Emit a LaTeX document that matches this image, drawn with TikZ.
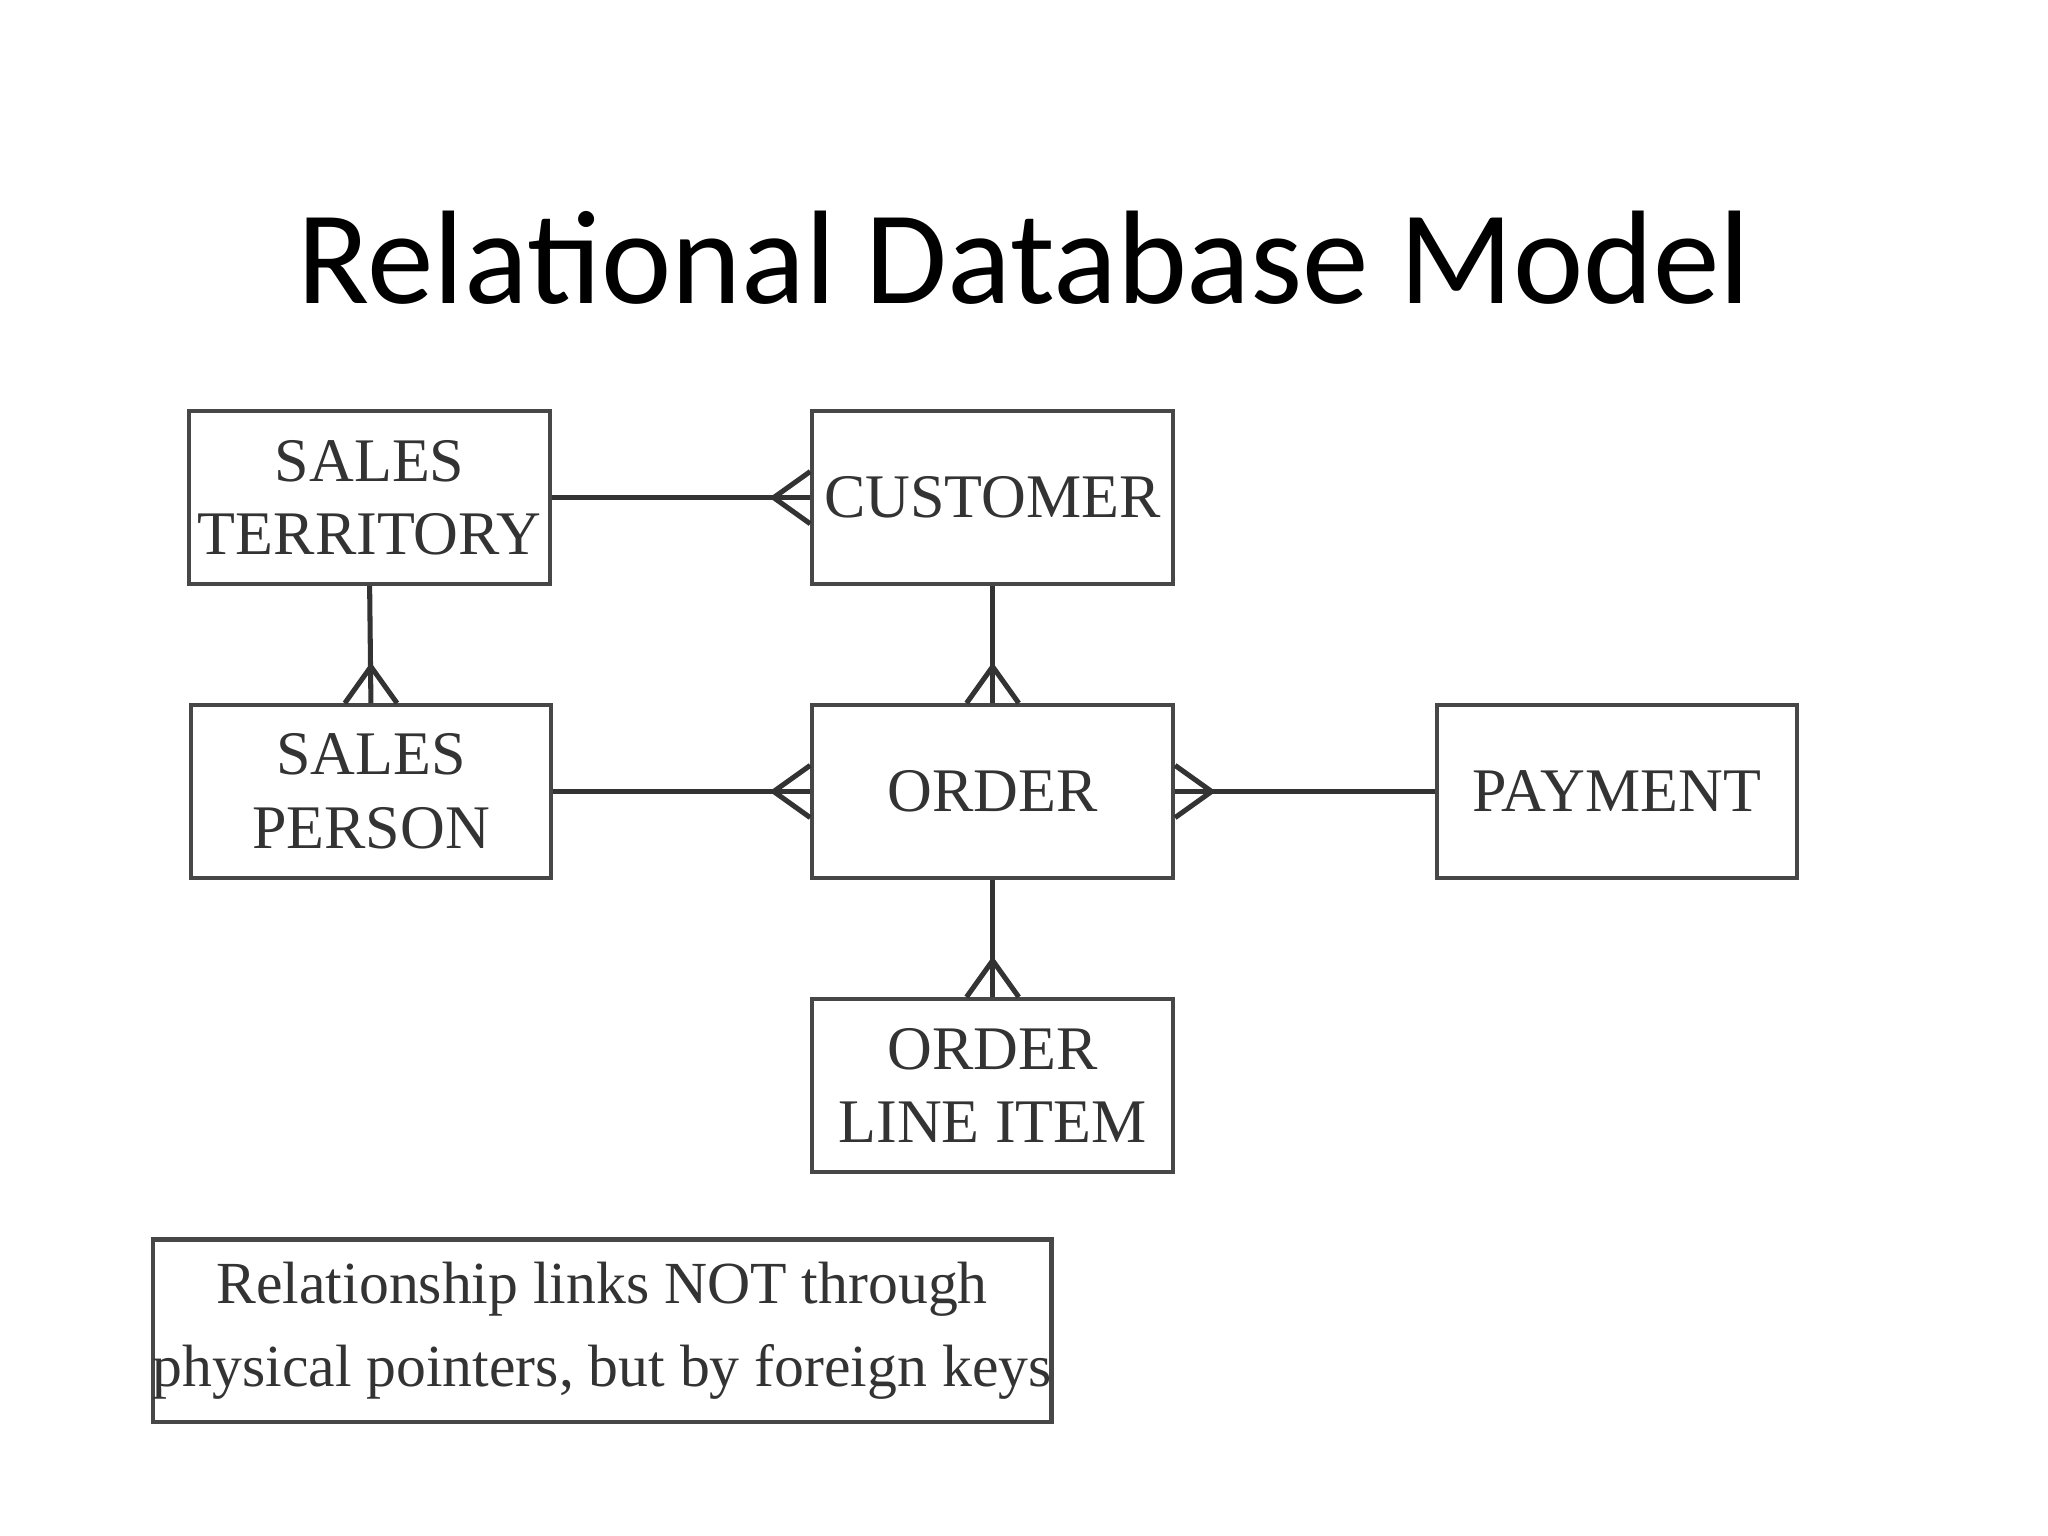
\documentclass[tikz,border=0pt]{standalone}
\usepackage{fontspec}
\setmainfont{Liberation Serif}
\newfontfamily\titlefont{Carlito}
\usetikzlibrary{calc}
\definecolor{ink}{HTML}{333333}
\begin{document}
\begin{tikzpicture}[x=0.01cm,y=-0.01cm,
  ent/.style={draw=ink!90,line width=0.9pt,minimum width=2.76cm,minimum height=1.32cm,align=center,text=ink,font=\fontsize{13.5}{17}\selectfont,inner sep=0pt},
  rel/.style={draw=ink,line width=1.1pt}]
\useasboundingbox[fill=white] (0,0) rectangle (1568,1176);
\node[font=\titlefont\fontsize{29}{34}\selectfont] (title) at (784,197) {Relational Database Model};
\node[ent] (st) at (283,381) {SALES\\[-1pt]TERRITORY};
\node[ent] (cu) at (760,381) {CUSTOMER};
\node[ent] (sp) at (284,606) {SALES\\[-1pt]PERSON};
\node[ent] (or) at (760,606) {ORDER};
\node[ent] (pa) at (1238,606) {PAYMENT};
\node[ent] (li) at (760,831) {ORDER\\[-1pt]LINE ITEM};
\node[ent,minimum width=6.31cm,minimum height=1.40cm,font=\fontsize{13}{18}\selectfont] (note) at (461,1019) {Relationship links NOT through\\physical pointers, but by foreign keys};
% connectors
\draw[rel] (st.east) -- (cu.west);
\draw[rel] ($(cu.west)+(-28,0)$) -- ($(cu.west)+(0,-20)$) ($(cu.west)+(-28,0)$) -- ($(cu.west)+(0,20)$);
\draw[rel] (st.south) -- (sp.north);
\draw[rel] ($(sp.north)+(0,-28)$) -- ($(sp.north)+(-20,0)$) ($(sp.north)+(0,-28)$) -- ($(sp.north)+(20,0)$);
\draw[rel] (cu.south) -- (or.north);
\draw[rel] ($(or.north)+(0,-28)$) -- ($(or.north)+(-20,0)$) ($(or.north)+(0,-28)$) -- ($(or.north)+(20,0)$);
\draw[rel] (sp.east) -- (or.west);
\draw[rel] ($(or.west)+(-28,0)$) -- ($(or.west)+(0,-20)$) ($(or.west)+(-28,0)$) -- ($(or.west)+(0,20)$);
\draw[rel] (or.east) -- (pa.west);
\draw[rel] ($(or.east)+(28,0)$) -- ($(or.east)+(0,-20)$) ($(or.east)+(28,0)$) -- ($(or.east)+(0,20)$);
\draw[rel] (or.south) -- (li.north);
\draw[rel] ($(li.north)+(0,-28)$) -- ($(li.north)+(-20,0)$) ($(li.north)+(0,-28)$) -- ($(li.north)+(20,0)$);
\end{tikzpicture}
\end{document}
